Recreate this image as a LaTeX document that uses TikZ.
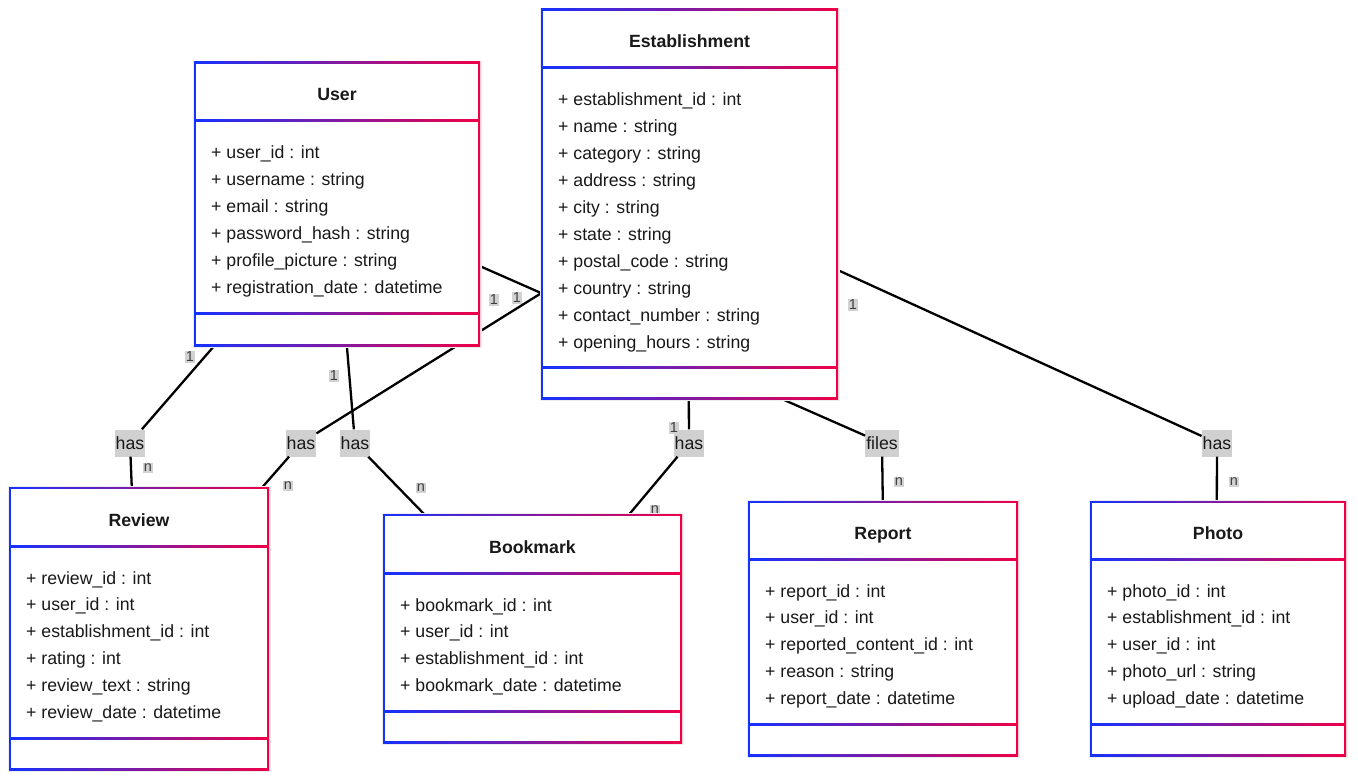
\documentclass[tikz,border=0pt]{standalone}
\usepackage{fontspec}
\setmainfont{Liberation Sans}
\usetikzlibrary{calc,fit}
\definecolor{cb}{RGB}{20,50,255}
\definecolor{cr}{RGB}{240,0,70}
\definecolor{lblgray}{RGB}{208,208,208}
\definecolor{cardgray}{RGB}{210,210,210}
\pgfdeclarelayer{bottom}
\pgfdeclarelayer{background}
\pgfsetlayers{bottom,background,main}
\tikzset{
  attr/.style={anchor=base west, inner sep=0pt, font=\fontsize{17.7}{21}\selectfont, text=black!90},
  title/.style={anchor=base, inner sep=0pt, font=\bfseries\fontsize{17.7}{21}\selectfont, text=black!90},
  rel/.style={fill=lblgray, inner xsep=1pt, inner ysep=0pt, minimum height=27pt, font=\fontsize{17.7}{21}\selectfont, text=black!90},
  card/.style={fill=cardgray, inner xsep=0.5pt, inner ysep=1.5pt, font=\fontsize{14.5}{16}\selectfont, text=black!75},
  edge/.style={line width=2.3pt, black},
}
\newcommand\umlbox[9]{%
  \fill[black!7] ({#2-2},{#3-2}) rectangle ({#4+3},{#5+3});
  \shade[left color=cb,right color=cr] ({#2-1},{#3-1}) rectangle ({#4+1},{#5+1});
  \fill[white] ({#2+1},{#3+1}) rectangle ({#4-1},{#5-1});
  \shade[left color=cb,right color=cr] (#2,{#6-1}) rectangle (#4,{#6+1});
  \shade[left color=cb,right color=cr] (#2,{#7-1}) rectangle (#4,{#7+1});
  \node[title] (#1-t) at ({(#2+#4)/2},{(#3+#6)/2+9}) {#8};
  \foreach \a [count=\i from 0] in {#9}
    \node[attr] (#1-a\i) at ({#2+16},{#6+38+26.9*\i}) {\a};
  \node[fit={(#2,#3) (#4,#5)}, inner sep=0pt] (#1) {};
}
\begin{document}
\begin{tikzpicture}[x=1pt,y=-1pt]
\begin{pgfonlayer}{bottom}
\useasboundingbox[fill=white] (0,0) rectangle (1358,781);
\end{pgfonlayer}

% classes
\umlbox{User}{195}{63}{479}{345}{121}{313}{User}{%
  + user\_id : int, + username : string, + email : string, + password\_hash : string,
  + profile\_picture : string, + registration\_date : datetime}
\umlbox{Est}{542}{10}{837}{398}{68}{367}{Establishment}{%
  + establishment\_id : int, + name : string, + category : string, + address : string,
  + city : string, + state : string, + postal\_code : string, + country : string,
  + contact\_number : string, + opening\_hours : string}
\umlbox{Review}{10}{488}{268}{769}{546}{738}{Review}{%
  + review\_id : int, + user\_id : int, + establishment\_id : int, + rating : int,
  + review\_text : string, + review\_date : datetime}
\umlbox{Bookmark}{384}{515}{681}{742}{573}{711}{Bookmark}{%
  + bookmark\_id : int, + user\_id : int, + establishment\_id : int, + bookmark\_date : datetime}
\umlbox{Report}{749}{502}{1017}{755}{559}{724}{Report}{%
  + report\_id : int, + user\_id : int, + reported\_content\_id : int, + reason : string,
  + report\_date : datetime}
\umlbox{Photo}{1091}{502}{1345}{755}{559}{724}{Photo}{%
  + photo\_id : int, + establishment\_id : int, + user\_id : int, + photo\_url : string,
  + upload\_date : datetime}

\begin{pgfonlayer}{background}
  % relation labels
  \node[rel] (has1) at (130,443) {has};
  \node[rel] (has2) at (301,443) {has};
  \node[rel] (has3) at (355,443) {has};
  \node[rel] (has4) at (689,443) {has};
  \node[rel] (files) at (882,443) {files};
  \node[rel] (has5) at (1217,443) {has};
  % connectors
  \draw[edge] ($(User.south west)+(20,0)$) -- (has1);
  \draw[edge] (has1) -- ($(Review.north west)+(122,0)$);
  \draw[edge] ($(Est.north west)+(0,283)$) -- (has2);
  \draw[edge] (has2) -- ($(Review.north west)+(252,0)$);
  \draw[edge] ($(User.south west)+(152,0)$) -- (has3);
  \draw[edge] (has3) -- ($(Bookmark.north west)+(41,0)$);
  \draw[edge] ($(Est.south west)+(147,0)$) -- (has4);
  \draw[edge] (has4) -- ($(Bookmark.north west)+(245,0)$);
  \draw[edge] ($(User.north east)+(0,203)$) -- (files);
  \draw[edge] (files) -- ($(Report.north west)+(134,0)$);
  \draw[edge] ($(Est.north east)+(0,260)$) -- (has5);
  \draw[edge] (has5) -- ($(Photo.north west)+(126,0)$);
  % cardinalities
  \node[card] (c1a) at (190,357) {1};
  \node[card] (c1b) at (148,468) {n};
  \node[card] (c2a) at (517,298) {1};
  \node[card] (c2b) at (288,486) {n};
  \node[card] (c3a) at (334,376) {1};
  \node[card] (c3b) at (421,488) {n};
  \node[card] (c4a) at (674,428) {1};
  \node[card] (c4b) at (655,510) {n};
  \node[card] (c5a) at (494,300) {1};
  \node[card] (c5b) at (899,482) {n};
  \node[card] (c6a) at (853,305) {1};
  \node[card] (c6b) at (1234,482) {n};
\end{pgfonlayer}
\end{tikzpicture}
\end{document}
